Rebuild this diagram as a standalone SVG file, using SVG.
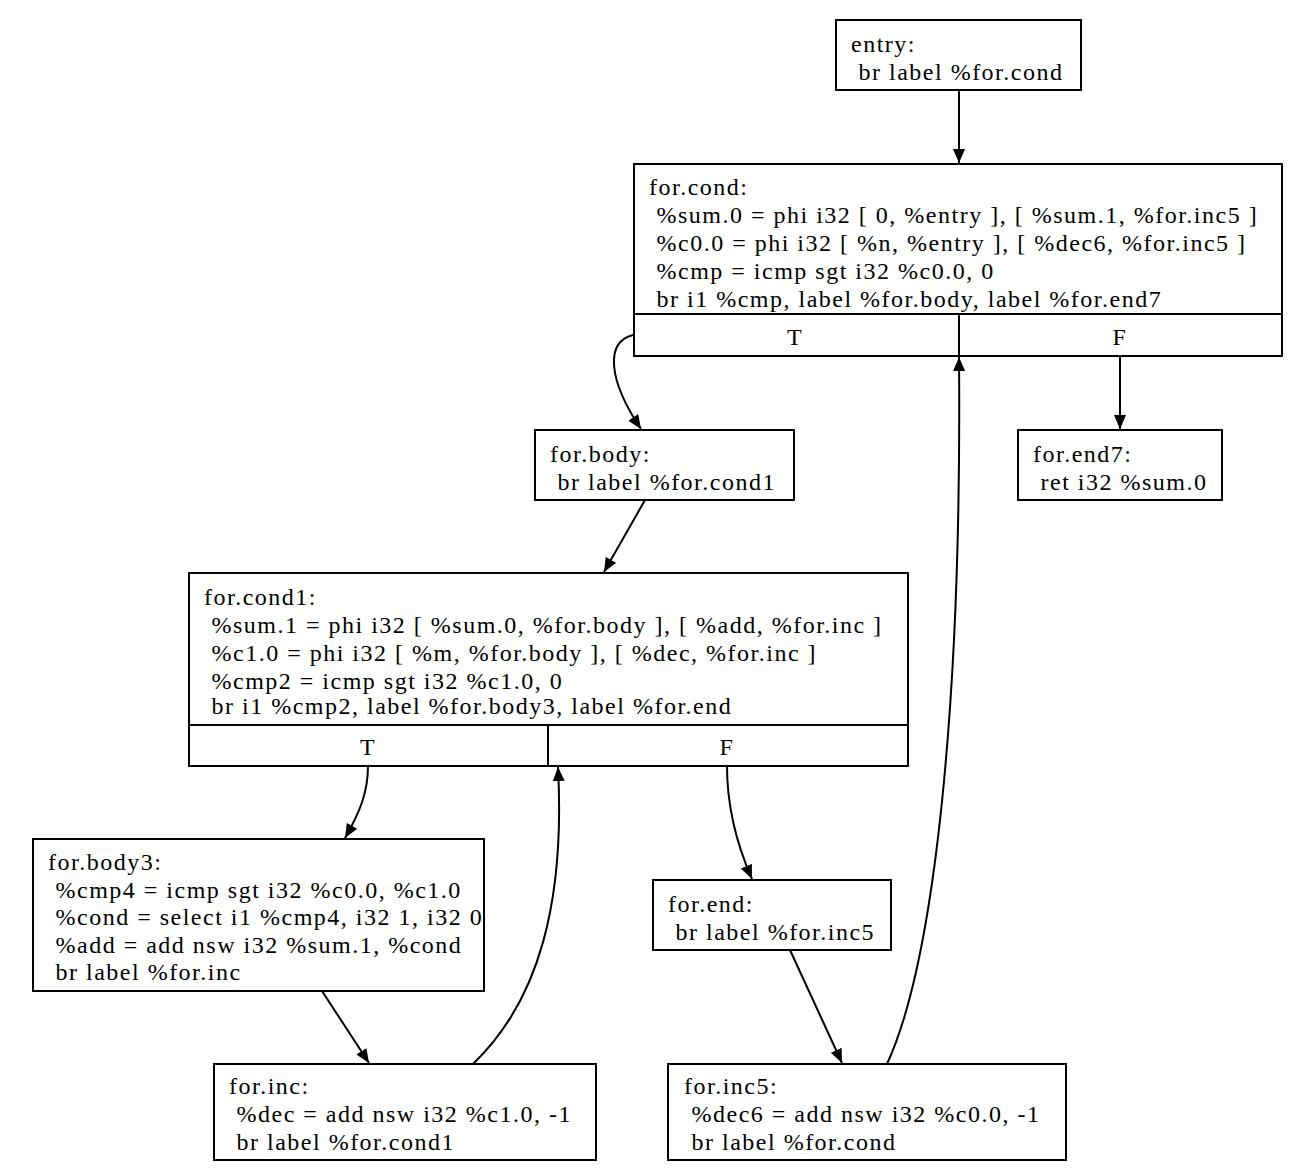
<svg xmlns="http://www.w3.org/2000/svg" width="1300" height="1172" viewBox="0 0 1300 1172">
<style>
rect,line.d{fill:#fff;stroke:#000;stroke-width:2}
line.d{fill:none}
text{font-family:"Liberation Serif","Times New Roman",serif;font-size:24px;letter-spacing:1.5px;fill:#000}
.c{text-anchor:middle}
#edges path{fill:none;stroke:#000;stroke-width:2;marker-end:url(#a)}
</style>
<defs><marker id="a" viewBox="0 0 14 12" refX="14" refY="6" markerWidth="14" markerHeight="12" markerUnits="userSpaceOnUse" orient="auto"><path d="M0,0 L14,6 L0,12 z" fill="#000"/></marker>
</defs>
<rect width="1300" height="1172" style="stroke:none"/>
<g id="edges">
<path d="M959,90 L959,163"/>
<path d="M633,335 C605,342 608,380 641,429"/>
<path d="M1120,356 L1120,429"/>
<path d="M645,500 L604,572"/>
<path d="M368,766 C368,792 360,812 345,838"/>
<path d="M727,766 C727,805 737,845 752,879"/>
<path d="M322,991 L369,1063"/>
<path d="M473,1064 C540,1000 565,900 558,767"/>
<path d="M790,950 L842,1063"/>
<path d="M887,1064 C935,960 962,700 959,357"/>
</g>
<g id="entry"><rect x="836" y="20" width="245" height="70"/><text x="851" y="52">entry:</text><text x="851" y="80" xml:space="preserve"> br label %for.cond</text></g>
<g id="for.cond"><rect x="634" y="164" width="648" height="192"/><line class="d" x1="634" y1="314" x2="1282" y2="314"/><line class="d" x1="959" y1="314" x2="959" y2="356"/>
<text x="649" y="195">for.cond:</text><text x="649" y="223" xml:space="preserve"> %sum.0 = phi i32 [ 0, %entry ], [ %sum.1, %for.inc5 ]</text><text x="649" y="251" xml:space="preserve"> %c0.0 = phi i32 [ %n, %entry ], [ %dec6, %for.inc5 ]</text><text x="649" y="279" xml:space="preserve"> %cmp = icmp sgt i32 %c0.0, 0</text><text x="649" y="307" xml:space="preserve"> br i1 %cmp, label %for.body, label %for.end7</text>
<text class="c" x="795" y="345">T</text><text class="c" x="1120" y="345">F</text></g>
<g id="for.body"><rect x="535" y="430" width="259" height="70"/><text x="550" y="462">for.body:</text><text x="550" y="490" xml:space="preserve"> br label %for.cond1</text></g>
<g id="for.end7"><rect x="1018" y="430" width="204" height="70"/><text x="1033" y="462">for.end7:</text><text x="1033" y="490" xml:space="preserve"> ret i32 %sum.0</text></g>
<g id="for.cond1"><rect x="189" y="573" width="719" height="193"/><line class="d" x1="189" y1="725" x2="908" y2="725"/><line class="d" x1="548" y1="725" x2="548" y2="766"/>
<text x="204" y="605">for.cond1:</text><text x="204" y="633" xml:space="preserve"> %sum.1 = phi i32 [ %sum.0, %for.body ], [ %add, %for.inc ]</text><text x="204" y="661" xml:space="preserve"> %c1.0 = phi i32 [ %m, %for.body ], [ %dec, %for.inc ]</text><text x="204" y="689" xml:space="preserve"> %cmp2 = icmp sgt i32 %c1.0, 0</text><text x="204" y="714" xml:space="preserve"> br i1 %cmp2, label %for.body3, label %for.end</text>
<text class="c" x="368" y="755">T</text><text class="c" x="727" y="755">F</text></g>
<g id="for.body3"><rect x="33" y="839" width="451" height="152"/><text x="48" y="870">for.body3:</text><text x="48" y="898" xml:space="preserve"> %cmp4 = icmp sgt i32 %c0.0, %c1.0</text><text x="48" y="925" xml:space="preserve"> %cond = select i1 %cmp4, i32 1, i32 0</text><text x="48" y="953" xml:space="preserve"> %add = add nsw i32 %sum.1, %cond</text><text x="48" y="980" xml:space="preserve"> br label %for.inc</text></g>
<g id="for.end"><rect x="653" y="880" width="238" height="70"/><text x="668" y="912">for.end:</text><text x="668" y="940" xml:space="preserve"> br label %for.inc5</text></g>
<g id="for.inc"><rect x="214" y="1064" width="382" height="96"/><text x="229" y="1094">for.inc:</text><text x="229" y="1122" xml:space="preserve"> %dec = add nsw i32 %c1.0, -1</text><text x="229" y="1150" xml:space="preserve"> br label %for.cond1</text></g>
<g id="for.inc5"><rect x="668" y="1064" width="398" height="96"/><text x="684" y="1094">for.inc5:</text><text x="684" y="1122" xml:space="preserve"> %dec6 = add nsw i32 %c0.0, -1</text><text x="684" y="1150" xml:space="preserve"> br label %for.cond</text></g>
</svg>
